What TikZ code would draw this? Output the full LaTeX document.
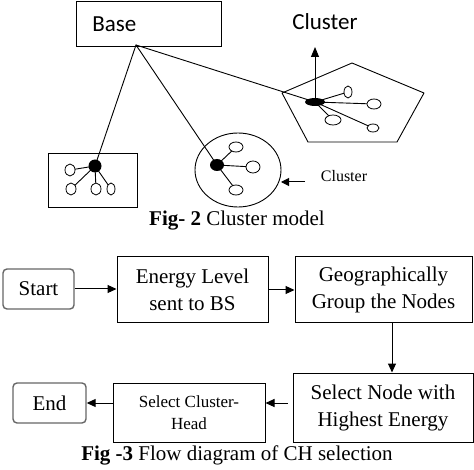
\documentclass[tikz,border=0pt]{standalone}
\usepackage{fontspec}
\setmainfont{Liberation Serif}
\newfontfamily\labelfont{Carlito}
\usepackage{tkz-euclide}
\usetikzlibrary{arrows.meta,calc}
\definecolor{TermClr}{rgb}{0.4,0.4,0.4}

\tikzset{
  box/.style={draw,line width=1pt,align=center,font=\fontsize{21}{27}\selectfont},
  term/.style={draw=TermClr,line width=1.4pt,rounded corners=4pt,font=\fontsize{21}{27}\selectfont},
  flow/.style={line width=1pt,-{Triangle[length=9pt,width=8pt]}},
  member/.style={draw,fill=white,line width=0.8pt},
}

\begin{document}
\begin{tikzpicture}[x=1pt,y=-1pt]
\useasboundingbox (0,0) rectangle (474,470);
\tkzSetUpLine[line width=0.9pt,color=black]

% cluster model
\node[draw,line width=0.9pt,anchor=north west,inner xsep=16pt,text width=113pt,minimum height=45pt,align=left,font=\labelfont\fontsize{23}{26}\selectfont] (base) at (76,1) {Base};
\node[font=\labelfont\fontsize{23}{26}\selectfont] (clusterlbl) at (325,22) {Cluster};

\tkzDefPoints{136/45/B,352/63/P1,424/93/P2,397/142/P3,308/142/P4,282/93/P5}
\tkzDefPoints{95/166/HA,217/165/HB,315/102/HC,315/47/T}
\tkzDefPoints{70/170/MA1,71/189/MA2,96/189/MA3,111/189/MA4}
\tkzDefPoints{236/147/MB1,253/167/MB2,236/190/MB3}
\tkzDefPoints{348/92/MC1,374/104/MC2,333/120/MC3,373/128/MC4}
\tkzDefPoints{305/182/K1,281/182/K2}

\tkzDrawPolygon(P1,P2,P3,P4,P5)
\draw[line width=0.9pt] (48,153) rectangle (137,207);
\draw[line width=0.9pt] (238,170) ellipse [x radius=43pt,y radius=37pt];

\tkzDrawSegments(B,HA B,HB B,HC)
\tkzDrawSegments(HA,MA1 HA,MA2 HA,MA3 HA,MA4)
\tkzDrawSegments(HB,MB1 HB,MB2 HB,MB3)
\tkzDrawSegments(HC,MC1 HC,MC2 HC,MC3 HC,MC4)
\draw[line width=1pt,-{Triangle[length=10pt,width=8pt]}] (HC) -- (T);

\path[member] (MA1) ellipse [x radius=5pt,y radius=6pt];
\path[member] (MA2) ellipse [x radius=5pt,y radius=6pt];
\path[member] (MA3) ellipse [x radius=5pt,y radius=6pt];
\path[member] (MA4) ellipse [x radius=4pt,y radius=6pt];
\path[member] (MB1) ellipse [x radius=7pt,y radius=5pt];
\path[member] (MB2) ellipse [x radius=7pt,y radius=6pt];
\path[member] (MB3) ellipse [x radius=7pt,y radius=5pt];
\path[member] (MC1) ellipse [x radius=4pt,y radius=6pt];
\path[member] (MC2) ellipse [x radius=7pt,y radius=5pt];
\path[member] (MC3) ellipse [x radius=8pt,y radius=5pt];
\path[member] (MC4) ellipse [x radius=6pt,y radius=4pt];

\fill (HA) circle (6.5pt);
\fill (HB) ellipse [x radius=7pt,y radius=6pt];
\fill (HC) ellipse [x radius=10pt,y radius=4pt];

\draw[line width=1pt,-{Triangle[length=8pt,width=8pt]}] (K1) -- (K2);
\node[font=\fontsize{16}{18}\selectfont] (clusternote) at (344,176) {Cluster};

\node[font=\fontsize{21}{25}\selectfont] (fig2) at (237,221) {\textbf{Fig- 2} Cluster model};

% flow diagram
\node[term,minimum width=71pt,minimum height=40pt] (start) at (38.5,289) {Start};
\node[box,minimum width=151pt,minimum height=66pt] (energy) at (192.5,290) {Energy Level\\sent to BS};
\node[box,minimum width=177pt,minimum height=66pt] (group) at (383.5,290) {Geographically\\Group the Nodes};
\node[box,minimum width=180pt,minimum height=69pt] (select) at (383,407.5) {Select Node with\\Highest Energy};
\node[box,minimum width=152pt,minimum height=59pt,font=\fontsize{17}{22}\selectfont] (head) at (189,412.5) {Select Cluster-\\Head};
\node[term,minimum width=73pt,minimum height=40pt] (end) at (49.5,403) {End};

\draw[flow] (start.east) -- (start.east -| energy.west);
\draw[flow] (energy) -- (group);
\draw[flow] ([xshift=8.5pt]group.south) -- ([xshift=8.5pt]group.south |- select.north);
\draw[flow] ([xshift=-5pt]select.west |- end) -- (head.east |- end);
\draw[flow] (head.west |- end) -- (end.east);

\node[font=\fontsize{21}{25}\selectfont] (fig3) at (237,455) {\textbf{Fig -3} Flow diagram of CH selection};

\end{tikzpicture}
\end{document}
